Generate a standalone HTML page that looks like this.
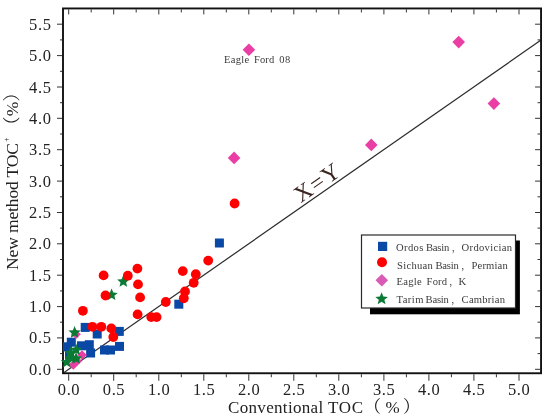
<!DOCTYPE html>
<html><head><meta charset="utf-8"><title>TOC</title>
<style>
html,body{margin:0;padding:0;background:#fff}
svg{display:block}
text{font-family:"Liberation Serif","Noto Serif CJK SC",serif}
</style></head>
<body>
<svg width="550" height="420" viewBox="0 0 550 420">
<rect width="550" height="420" fill="#fff"/>
<path d="M68.7 374.25 v6.5 M68.7 9.45 v5 M62 369.3 h-5 M540.05 369.3 h-5 M91.2 374.25 v3 M91.2 9.45 v3 M62 353.6 h-2 M540.05 353.6 h-2.5 M113.7 374.25 v6.5 M113.7 9.45 v5 M62 337.9 h-5 M540.05 337.9 h-5 M136.2 374.25 v3 M136.2 9.45 v3 M62 322.2 h-2 M540.05 322.2 h-2.5 M158.8 374.25 v6.5 M158.8 9.45 v5 M62 306.6 h-5 M540.05 306.6 h-5 M181.3 374.25 v3 M181.3 9.45 v3 M62 290.9 h-2 M540.05 290.9 h-2.5 M203.8 374.25 v6.5 M203.8 9.45 v5 M62 275.2 h-5 M540.05 275.2 h-5 M226.3 374.25 v3 M226.3 9.45 v3 M62 259.5 h-2 M540.05 259.5 h-2.5 M248.8 374.25 v6.5 M248.8 9.45 v5 M62 243.8 h-5 M540.05 243.8 h-5 M271.3 374.25 v3 M271.3 9.45 v3 M62 228.1 h-2 M540.05 228.1 h-2.5 M293.8 374.25 v6.5 M293.8 9.45 v5 M62 212.5 h-5 M540.05 212.5 h-5 M316.3 374.25 v3 M316.3 9.45 v3 M62 196.8 h-2 M540.05 196.8 h-2.5 M338.8 374.25 v6.5 M338.8 9.45 v5 M62 181.1 h-5 M540.05 181.1 h-5 M361.4 374.25 v3 M361.4 9.45 v3 M62 165.4 h-2 M540.05 165.4 h-2.5 M383.9 374.25 v6.5 M383.9 9.45 v5 M62 149.7 h-5 M540.05 149.7 h-5 M406.4 374.25 v3 M406.4 9.45 v3 M62 134.0 h-2 M540.05 134.0 h-2.5 M428.9 374.25 v6.5 M428.9 9.45 v5 M62 118.3 h-5 M540.05 118.3 h-5 M451.4 374.25 v3 M451.4 9.45 v3 M62 102.7 h-2 M540.05 102.7 h-2.5 M473.9 374.25 v6.5 M473.9 9.45 v5 M62 87.0 h-5 M540.05 87.0 h-5 M496.4 374.25 v3 M496.4 9.45 v3 M62 71.3 h-2 M540.05 71.3 h-2.5 M519.0 374.25 v6.5 M519.0 9.45 v5 M62 55.6 h-5 M540.05 55.6 h-5 M62 39.9 h-2 M540.05 39.9 h-2.5 M62 24.2 h-5 M540.05 24.2 h-5" stroke="#333" stroke-width="1" fill="none"/>
<line x1="63" y1="373.25" x2="541.05" y2="40" stroke="#2b2b2b" stroke-width="1.2"/>
<rect x="63" y="8.45" width="478.04999999999995" height="364.8" fill="none" stroke="#111" stroke-width="1.9"/>
<g font-size="16.5" fill="#222" letter-spacing="0.6">
<text x="69.0" y="394.7" text-anchor="middle">0.0</text>
<text x="114.0" y="394.7" text-anchor="middle">0.5</text>
<text x="159.1" y="394.7" text-anchor="middle">1.0</text>
<text x="204.1" y="394.7" text-anchor="middle">1.5</text>
<text x="249.1" y="394.7" text-anchor="middle">2.0</text>
<text x="294.1" y="394.7" text-anchor="middle">2.5</text>
<text x="339.1" y="394.7" text-anchor="middle">3.0</text>
<text x="384.2" y="394.7" text-anchor="middle">3.5</text>
<text x="429.2" y="394.7" text-anchor="middle">4.0</text>
<text x="474.2" y="394.7" text-anchor="middle">4.5</text>
<text x="519.2" y="394.7" text-anchor="middle">5.0</text>
<text x="51.5" y="374.8" text-anchor="end">0.0</text>
<text x="51.5" y="343.4" text-anchor="end">0.5</text>
<text x="51.5" y="312.1" text-anchor="end">1.0</text>
<text x="51.5" y="280.7" text-anchor="end">1.5</text>
<text x="51.5" y="249.3" text-anchor="end">2.0</text>
<text x="51.5" y="218.0" text-anchor="end">2.5</text>
<text x="51.5" y="186.6" text-anchor="end">3.0</text>
<text x="51.5" y="155.2" text-anchor="end">3.5</text>
<text x="51.5" y="123.8" text-anchor="end">4.0</text>
<text x="51.5" y="92.5" text-anchor="end">4.5</text>
<text x="51.5" y="61.1" text-anchor="end">5.0</text>
<text x="51.5" y="29.7" text-anchor="end">5.5</text>
</g>
<text y="413.2" font-size="17" fill="#222"><tspan x="228" textLength="95.2">Conventional</tspan> <tspan x="328" textLength="35">TOC</tspan> <tspan x="364">（</tspan><tspan x="385.5" textLength="13.8">%</tspan><tspan x="403">）</tspan></text>
<text transform="translate(18.3,270) rotate(-90)" font-size="17.5" fill="#222"><tspan x="0" textLength="127">New method TOC</tspan><tspan x="128" dy="-9" font-size="8">+</tspan><tspan x="136" dy="9">（</tspan><tspan x="153.7">%</tspan><tspan x="168.5">）</tspan></text>
<text transform="translate(322,188.6) rotate(-34.8)" font-size="23.5" letter-spacing="1.5" fill="#3a2520" text-anchor="middle">X=Y</text>
<text y="62.5" font-size="10.5" fill="#3a3a3a"><tspan x="224" textLength="25.2">Eagle</tspan> <tspan x="254" textLength="20.2">Ford</tspan> <tspan x="279.2" textLength="11.1">08</tspan></text>
<g fill="#0a48a6"><rect x="214.9" y="238.5" width="9" height="9"/><rect x="174.3" y="299.7" width="9" height="9"/><rect x="80.7" y="322.9" width="9" height="9"/><rect x="92.7" y="329.5" width="9" height="9"/><rect x="114.8" y="326.9" width="9" height="9"/><rect x="115.0" y="341.9" width="9" height="9"/><rect x="106.0" y="345.5" width="9" height="9"/><rect x="100.0" y="345.5" width="9" height="9"/><rect x="84.8" y="340.2" width="9" height="9"/><rect x="86.1" y="348.5" width="9" height="9"/><rect x="77.0" y="341.3" width="9" height="9"/><rect x="66.8" y="337.7" width="9" height="9"/><rect x="62.9" y="342.3" width="9" height="9"/><rect x="65.0" y="350.5" width="9" height="9"/></g>
<g fill="#ea3ea4"><polygon points="248.9,43.4 255.2,49.7 248.9,56.0 242.6,49.7"/><polygon points="458.7,35.8 465.0,42.1 458.7,48.4 452.4,42.1"/><polygon points="493.9,97.3 500.2,103.6 493.9,109.9 487.6,103.6"/><polygon points="371.3,138.6 377.6,144.9 371.3,151.2 365.0,144.9"/><polygon points="234.1,151.6 240.4,157.9 234.1,164.2 227.8,157.9"/><polygon points="76.0,329.4 80.8,334.2 76.0,339.0 71.2,334.2"/><polygon points="82.0,350.2 86.8,355.0 82.0,359.8 77.2,355.0"/><polygon points="77.3,356.2 82.1,361.0 77.3,365.8 72.5,361.0"/><polygon points="73.3,360.2 78.1,365.0 73.3,369.8 68.5,365.0"/></g>
<g fill="#0b7a35"><polygon points="123.3,275.1 125.0,279.2 129.4,279.5 126.1,282.4 127.1,286.7 123.3,284.4 119.5,286.7 120.5,282.4 117.2,279.5 121.6,279.2"/><polygon points="111.6,288.5 113.3,292.6 117.7,292.9 114.4,295.8 115.4,300.1 111.6,297.8 107.8,300.1 108.8,295.8 105.5,292.9 109.9,292.6"/><polygon points="74.6,326.1 76.3,330.2 80.7,330.5 77.4,333.4 78.4,337.7 74.6,335.4 70.8,337.7 71.8,333.4 68.5,330.5 72.9,330.2"/><polygon points="76.1,343.5 77.8,347.6 82.2,347.9 78.9,350.8 79.9,355.1 76.1,352.8 72.3,355.1 73.3,350.8 70.0,347.9 74.4,347.6"/><polygon points="70.5,346.6 72.2,350.7 76.6,351.0 73.3,353.9 74.3,358.2 70.5,355.9 66.7,358.2 67.7,353.9 64.4,351.0 68.8,350.7"/><polygon points="76.1,352.1 77.8,356.2 82.2,356.5 78.9,359.4 79.9,363.7 76.1,361.4 72.3,363.7 73.3,359.4 70.0,356.5 74.4,356.2"/><polygon points="66.8,355.8 68.5,359.9 72.9,360.2 69.6,363.1 70.6,367.4 66.8,365.1 63.0,367.4 64.0,363.1 60.7,360.2 65.1,359.9"/><polygon points="71.1,351.5 72.8,355.6 77.2,355.9 73.9,358.8 74.9,363.1 71.1,360.8 67.3,363.1 68.3,358.8 65.0,355.9 69.4,355.6"/></g>
<g fill="#ff0000"><circle cx="234.6" cy="203.5" r="4.9"/><circle cx="208.2" cy="260.6" r="4.9"/><circle cx="182.8" cy="271.1" r="4.9"/><circle cx="195.8" cy="274.2" r="4.9"/><circle cx="193.7" cy="282.8" r="4.9"/><circle cx="185" cy="291.5" r="4.9"/><circle cx="183.8" cy="298.3" r="4.9"/><circle cx="165.8" cy="302" r="4.9"/><circle cx="137.4" cy="268.6" r="4.9"/><circle cx="127.8" cy="275.7" r="4.9"/><circle cx="103.6" cy="275.4" r="4.9"/><circle cx="138" cy="284.4" r="4.9"/><circle cx="105.5" cy="295.5" r="4.9"/><circle cx="140.1" cy="297.4" r="4.9"/><circle cx="137.6" cy="314.4" r="4.9"/><circle cx="151.2" cy="317.1" r="4.9"/><circle cx="156.6" cy="317.1" r="4.9"/><circle cx="82.9" cy="310.8" r="4.9"/><circle cx="92.4" cy="326.8" r="4.9"/><circle cx="101.3" cy="326.8" r="4.9"/><circle cx="111.3" cy="328.4" r="4.9"/><circle cx="113.3" cy="337" r="4.9"/></g>
<rect x="370" y="240.5" width="149.9" height="73.8" fill="#000"/>
<rect x="361.5" y="235" width="154" height="73" fill="#fff" stroke="#2b2b2b" stroke-width="1.2"/>
<g fill="#0a48a6"><rect x="378.0" y="241.8" width="9.2" height="9.2"/></g>
<circle cx="382" cy="262.2" r="5" fill="#ff0000"/>
<g fill="#d95bb5"><polygon points="381.8,274.0 388.1,280.3 381.8,286.6 375.5,280.3"/></g>
<g fill="#0b7a35"><polygon points="381.6,292.3 383.3,296.6 387.9,296.9 384.4,299.8 385.5,304.2 381.6,301.8 377.7,304.2 378.8,299.8 375.3,296.9 379.9,296.6"/></g>
<g font-size="10.6" fill="#3a3a3a">
<text y="251.1"><tspan x="395.9" textLength="27.5">Ordos</tspan> <tspan x="425.9" textLength="23.5">Basin</tspan><tspan x="451.5">，</tspan> <tspan x="461.6" textLength="50.4">Ordovician</tspan></text>
<text y="268.8"><tspan x="397.1" textLength="35.7">Sichuan</tspan> <tspan x="435.4" textLength="23.4">Basin</tspan><tspan x="461">，</tspan> <tspan x="471.5" textLength="36.2">Permian</tspan></text>
<text y="285.4"><tspan x="396.6" textLength="25.1">Eagle</tspan> <tspan x="426.6" textLength="20.4">Ford</tspan><tspan x="449">，</tspan> <tspan x="458.6" textLength="7.2">K</tspan></text>
<text y="302.7"><tspan x="396.6" textLength="26.8">Tarim</tspan> <tspan x="425.5" textLength="23.4">Basin</tspan><tspan x="451">，</tspan> <tspan x="461.6" textLength="43.4">Cambrian</tspan></text>
</g>
</svg>
</body></html>
